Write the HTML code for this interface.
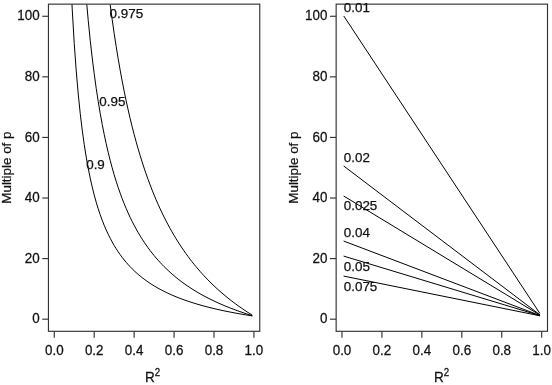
<!DOCTYPE html>
<html><head><meta charset="utf-8"><title>Multiple of p</title>
<style>
html,body{margin:0;padding:0;background:#fff;}
svg{display:block;font-family:"Liberation Sans",sans-serif;}
</style></head><body>
<svg width="552" height="385" viewBox="0 0 552 385">
<rect width="552" height="385" fill="#fff"/>
<clipPath id="c1"><rect x="48.45" y="4.15" width="211.30" height="327.15"/></clipPath>
<g clip-path="url(#c1)" fill="none" stroke="#000" stroke-width="1.0" stroke-linejoin="round" stroke-linecap="round">
<polyline points="64.26,-259.39 66.26,-158.42 68.25,-86.29 70.25,-32.20 72.25,9.87 74.24,43.53 76.24,71.07 78.24,94.02 80.23,113.43 82.23,130.08 84.23,144.50 86.22,157.12 88.22,168.26 90.21,178.16 92.21,187.02 94.21,194.99 96.20,202.20 98.20,208.76 100.20,214.74 102.19,220.23 104.19,225.28 106.19,229.94 108.18,234.25 110.18,238.26 112.18,241.99 114.17,245.47 116.17,248.73 118.16,251.78 120.16,254.65 122.16,257.35 124.15,259.90 126.15,262.30 128.15,264.58 130.14,266.73 132.14,268.77 134.14,270.72 136.13,272.56 138.13,274.32 140.13,276.00 142.12,277.60 144.12,279.13 146.11,280.59 148.11,282.00 150.11,283.34 152.10,284.63 154.10,285.86 156.10,287.05 158.09,288.19 160.09,289.29 162.09,290.35 164.08,291.37 166.08,292.35 168.07,293.30 170.07,294.22 172.07,295.10 174.06,295.96 176.06,296.79 178.06,297.59 180.05,298.36 182.05,299.12 184.05,299.84 186.04,300.55 188.04,301.23 190.04,301.90 192.03,302.54 194.03,303.17 196.02,303.78 198.02,304.37 200.02,304.95 202.01,305.51 204.01,306.06 206.01,306.59 208.00,307.11 210.00,307.61 212.00,308.10 213.99,308.58 215.99,309.05 217.99,309.50 219.98,309.95 221.98,310.38 223.97,310.81 225.97,311.22 227.97,311.63 229.96,312.02 231.96,312.41 233.96,312.79 235.95,313.16 237.95,313.52 239.95,313.87 241.94,314.22 243.94,314.56 245.93,314.89 247.93,315.22 249.93,315.54 251.92,315.85"/>
<polyline points="74.24,-229.10 76.24,-174.02 78.24,-128.12 80.23,-89.29 82.23,-56.00 84.23,-27.15 86.22,-1.91 88.22,20.36 90.21,40.16 92.21,57.88 94.21,73.82 96.20,88.25 98.20,101.36 100.20,113.33 102.19,124.31 104.19,134.40 106.19,143.72 108.18,152.35 110.18,160.37 112.18,167.83 114.17,174.79 116.17,181.31 118.16,187.41 120.16,193.15 122.16,198.55 124.15,203.64 126.15,208.45 128.15,213.00 130.14,217.31 132.14,221.40 134.14,225.28 136.13,228.97 138.13,232.49 140.13,235.85 142.12,239.05 144.12,242.11 146.11,245.03 148.11,247.84 150.11,250.52 152.10,253.10 154.10,255.57 156.10,257.95 158.09,260.23 160.09,262.43 162.09,264.55 164.08,266.59 166.08,268.55 168.07,270.45 170.07,272.28 172.07,274.05 174.06,275.77 176.06,277.42 178.06,279.02 180.05,280.57 182.05,282.08 184.05,283.53 186.04,284.94 188.04,286.31 190.04,287.64 192.03,288.94 194.03,290.19 196.02,291.41 198.02,292.59 200.02,293.75 202.01,294.87 204.01,295.96 206.01,297.02 208.00,298.06 210.00,299.07 212.00,300.05 213.99,301.01 215.99,301.94 217.99,302.86 219.98,303.75 221.98,304.61 223.97,305.46 225.97,306.29 227.97,307.10 229.96,307.89 231.96,308.67 233.96,309.42 235.95,310.16 237.95,310.89 239.95,311.59 241.94,312.29 243.94,312.97 245.93,313.63 247.93,314.28 249.93,314.92 251.92,315.54"/>
<polyline points="88.22,-275.42 90.21,-235.83 92.21,-200.40 94.21,-168.51 96.20,-139.66 98.20,-113.44 100.20,-89.49 102.19,-67.54 104.19,-47.35 106.19,-28.70 108.18,-11.44 110.18,4.58 112.18,19.50 114.17,33.43 116.17,46.46 118.16,58.68 120.16,70.15 122.16,80.95 124.15,91.13 126.15,100.75 128.15,109.84 130.14,118.46 132.14,126.64 134.14,134.40 136.13,141.79 138.13,148.83 140.13,155.54 142.12,161.94 144.12,168.06 146.11,173.92 148.11,179.52 150.11,184.89 152.10,190.04 154.10,194.99 156.10,199.74 158.09,204.31 160.09,208.70 162.09,212.94 164.08,217.02 166.08,220.95 168.07,224.75 170.07,228.41 172.07,231.95 174.06,235.38 176.06,238.69 178.06,241.89 180.05,244.99 182.05,248.00 184.05,250.91 186.04,253.73 188.04,256.48 190.04,259.13 192.03,261.72 194.03,264.23 196.02,266.66 198.02,269.03 200.02,271.34 202.01,273.58 204.01,275.77 206.01,277.89 208.00,279.96 210.00,281.98 212.00,283.95 213.99,285.86 215.99,287.73 217.99,289.56 219.98,291.34 221.98,293.07 223.97,294.77 225.97,296.43 227.97,298.05 229.96,299.63 231.96,301.18 233.96,302.69 235.95,304.17 237.95,305.62 239.95,307.03 241.94,308.42 243.94,309.78 245.93,311.11 247.93,312.41 249.93,313.68 251.92,314.93"/>
</g>
<rect x="48.45" y="4.15" width="211.30" height="327.15" fill="none" stroke="#333" stroke-width="1.15"/>
<g stroke="#333" stroke-width="1.15">
<line x1="54.28" y1="331.3" x2="54.28" y2="337.70"/>
<line x1="94.21" y1="331.3" x2="94.21" y2="337.70"/>
<line x1="134.14" y1="331.3" x2="134.14" y2="337.70"/>
<line x1="174.06" y1="331.3" x2="174.06" y2="337.70"/>
<line x1="213.99" y1="331.3" x2="213.99" y2="337.70"/>
<line x1="253.92" y1="331.3" x2="253.92" y2="337.70"/>
<line x1="42.25" y1="319.18" x2="48.45" y2="319.18"/>
<line x1="42.25" y1="258.60" x2="48.45" y2="258.60"/>
<line x1="42.25" y1="198.02" x2="48.45" y2="198.02"/>
<line x1="42.25" y1="137.43" x2="48.45" y2="137.43"/>
<line x1="42.25" y1="76.85" x2="48.45" y2="76.85"/>
<line x1="42.25" y1="16.27" x2="48.45" y2="16.27"/>
</g>
<g fill="#111" stroke="#111" stroke-width="0.25">
<text transform="translate(54.28,354.60) scale(1,1.04)" font-size="13.4" text-anchor="middle">0.0</text>
<text transform="translate(94.21,354.60) scale(1,1.04)" font-size="13.4" text-anchor="middle">0.2</text>
<text transform="translate(134.14,354.60) scale(1,1.04)" font-size="13.4" text-anchor="middle">0.4</text>
<text transform="translate(174.06,354.60) scale(1,1.04)" font-size="13.4" text-anchor="middle">0.6</text>
<text transform="translate(213.99,354.60) scale(1,1.04)" font-size="13.4" text-anchor="middle">0.8</text>
<text transform="translate(253.92,354.60) scale(1,1.04)" font-size="13.4" text-anchor="middle">1.0</text>
<text transform="translate(39.65,323.28) scale(1,1.04)" font-size="13.4" text-anchor="end">0</text>
<text transform="translate(39.65,262.70) scale(1,1.04)" font-size="13.4" text-anchor="end">20</text>
<text transform="translate(39.65,202.12) scale(1,1.04)" font-size="13.4" text-anchor="end">40</text>
<text transform="translate(39.65,141.53) scale(1,1.04)" font-size="13.4" text-anchor="end">60</text>
<text transform="translate(39.65,80.95) scale(1,1.04)" font-size="13.4" text-anchor="end">80</text>
<text transform="translate(39.65,20.37) scale(1,1.04)" font-size="13.4" text-anchor="end">100</text>
<text transform="translate(145.00,382.00) scale(1,1.09)" font-size="13.6">R</text>
<text transform="translate(154.70,375.85) scale(1,1.2)" font-size="9.7">2</text>
<text transform="translate(10.75,167.62) rotate(-90) scale(1,0.93)" font-size="13.4" text-anchor="middle">Multiple of p</text>
</g>
<clipPath id="c2"><rect x="336.15" y="4.15" width="211.35" height="327.15"/></clipPath>
<g clip-path="url(#c2)" fill="none" stroke="#000" stroke-width="1.0" stroke-linejoin="round" stroke-linecap="round">
<line x1="343.98" y1="276.17" x2="539.67" y2="315.75"/>
<line x1="343.98" y1="256.18" x2="539.67" y2="315.55"/>
<line x1="343.98" y1="241.18" x2="539.67" y2="315.40"/>
<line x1="343.98" y1="196.20" x2="539.67" y2="314.94"/>
<line x1="343.98" y1="166.21" x2="539.67" y2="314.64"/>
<line x1="343.98" y1="16.27" x2="539.67" y2="313.12"/>
</g>
<rect x="336.15" y="4.15" width="211.35" height="327.15" fill="none" stroke="#333" stroke-width="1.15"/>
<g stroke="#333" stroke-width="1.15">
<line x1="341.98" y1="331.3" x2="341.98" y2="337.70"/>
<line x1="381.92" y1="331.3" x2="381.92" y2="337.70"/>
<line x1="421.86" y1="331.3" x2="421.86" y2="337.70"/>
<line x1="461.79" y1="331.3" x2="461.79" y2="337.70"/>
<line x1="501.73" y1="331.3" x2="501.73" y2="337.70"/>
<line x1="541.67" y1="331.3" x2="541.67" y2="337.70"/>
<line x1="329.95" y1="319.18" x2="336.15" y2="319.18"/>
<line x1="329.95" y1="258.60" x2="336.15" y2="258.60"/>
<line x1="329.95" y1="198.02" x2="336.15" y2="198.02"/>
<line x1="329.95" y1="137.43" x2="336.15" y2="137.43"/>
<line x1="329.95" y1="76.85" x2="336.15" y2="76.85"/>
<line x1="329.95" y1="16.27" x2="336.15" y2="16.27"/>
</g>
<g fill="#111" stroke="#111" stroke-width="0.25">
<text transform="translate(341.98,354.60) scale(1,1.04)" font-size="13.4" text-anchor="middle">0.0</text>
<text transform="translate(381.92,354.60) scale(1,1.04)" font-size="13.4" text-anchor="middle">0.2</text>
<text transform="translate(421.86,354.60) scale(1,1.04)" font-size="13.4" text-anchor="middle">0.4</text>
<text transform="translate(461.79,354.60) scale(1,1.04)" font-size="13.4" text-anchor="middle">0.6</text>
<text transform="translate(501.73,354.60) scale(1,1.04)" font-size="13.4" text-anchor="middle">0.8</text>
<text transform="translate(541.67,354.60) scale(1,1.04)" font-size="13.4" text-anchor="middle">1.0</text>
<text transform="translate(327.35,323.28) scale(1,1.04)" font-size="13.4" text-anchor="end">0</text>
<text transform="translate(327.35,262.70) scale(1,1.04)" font-size="13.4" text-anchor="end">20</text>
<text transform="translate(327.35,202.12) scale(1,1.04)" font-size="13.4" text-anchor="end">40</text>
<text transform="translate(327.35,141.53) scale(1,1.04)" font-size="13.4" text-anchor="end">60</text>
<text transform="translate(327.35,80.95) scale(1,1.04)" font-size="13.4" text-anchor="end">80</text>
<text transform="translate(327.35,20.37) scale(1,1.04)" font-size="13.4" text-anchor="end">100</text>
<text transform="translate(434.10,382.00) scale(1,1.09)" font-size="13.6">R</text>
<text transform="translate(443.80,375.85) scale(1,1.2)" font-size="9.7">2</text>
<text transform="translate(298.45,167.62) rotate(-90) scale(1,0.93)" font-size="13.4" text-anchor="middle">Multiple of p</text>
</g>
<g fill="#111" stroke="#111" stroke-width="0.25">
<text transform="translate(109.60,18.10) scale(1,1.0)" font-size="13.4">0.975</text>
<text transform="translate(99.30,106.40) scale(1,1.0)" font-size="13.4">0.95</text>
<text transform="translate(86.20,169.30) scale(1,1.0)" font-size="13.4">0.9</text>
<text transform="translate(343.80,12.00) scale(1,1.0)" font-size="13.4">0.01</text>
<text transform="translate(343.80,162.20) scale(1,1.0)" font-size="13.4">0.02</text>
<text transform="translate(343.80,210.40) scale(1,1.0)" font-size="13.4">0.025</text>
<text transform="translate(343.80,237.20) scale(1,1.0)" font-size="13.4">0.04</text>
<text transform="translate(343.80,271.20) scale(1,1.0)" font-size="13.4">0.05</text>
<text transform="translate(343.80,290.80) scale(1,1.0)" font-size="13.4">0.075</text>
</g>
</svg>
</body></html>
